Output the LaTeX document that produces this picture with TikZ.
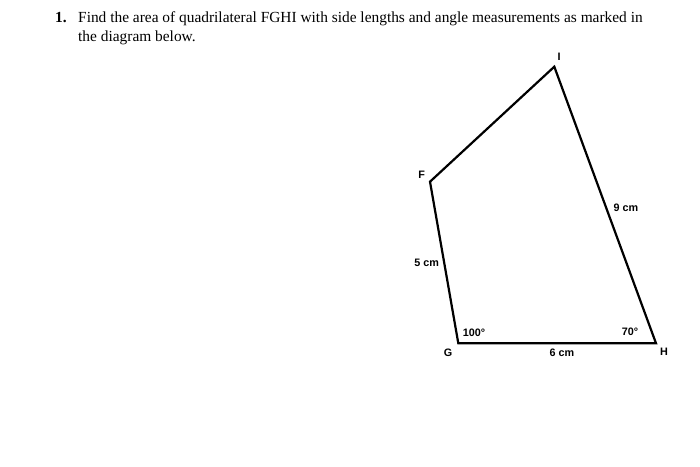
\documentclass[tikz,border=0pt]{standalone}
\usepackage{fontspec}
\setmainfont{Liberation Serif}
\newfontfamily\labelfont{Liberation Sans}
\usepackage{tikz}
\usetikzlibrary{calc}
\newcommand{\LBL}[1]{{\labelfont\bfseries\fontsize{10.8}{12}\selectfont #1}}

\begin{document}
\begin{tikzpicture}[x=1pt,y=1pt]
    \useasboundingbox (0,0) rectangle (700,466);

    % question text
    \node[anchor=base west,inner sep=0pt,font=\fontsize{15.4}{18}\selectfont\bfseries](num) at (55,443) {1.};
    \node[anchor=base west,inner sep=0pt,font=\fontsize{15.4}{18}\selectfont](line1) at (78,443) {Find the area of quadrilateral FGHI with side lengths and angle measurements as marked in};
    \node[anchor=base west,inner sep=0pt,font=\fontsize{15.4}{18}\selectfont](line2) at (78,424) {the diagram below.};

    % the quadrilateral
    \coordinate (F) at (430,284.3);
    \coordinate (G) at (458.3,122.7);
    \coordinate (H) at (656,122.7);
    \coordinate (I) at (554.3,399.3);
    \draw[line width=2.2pt,line join=miter] (F) -- (G) -- (H) -- (I) -- cycle;

    % vertex names
    \node(lF) at (421.7,291) {\LBL{F}};
    \node(lG) at (448,113) {\LBL{G}};
    \node(lH) at (664,114) {\LBL{H}};
    \node(lI) at (559,409) {\LBL{I}};

    % sides and angles
    \node(sGF) at (426.7,203) {\LBL{5 cm}};
    \node(sGH) at (562,113) {\LBL{6 cm}};
    \node(sHI) at (626,258) {\LBL{9 cm}};
    \node(aG) at (474,133.3) {\LBL{100\textdegree}};
    \node(aH) at (630,134.3) {\LBL{70\textdegree}};

\end{tikzpicture}
\end{document}
